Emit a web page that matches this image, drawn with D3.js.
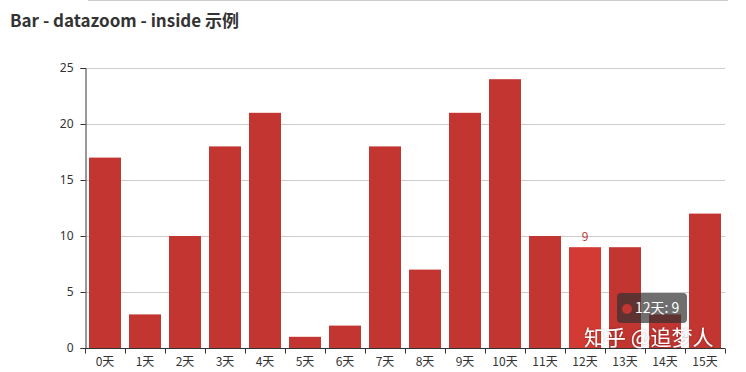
<!DOCTYPE html>
<html>
<head>
<meta charset="utf-8">
<script src="https://cdn.jsdelivr.net/npm/d3@7/dist/d3.min.js"></script>
<style>
  body { margin: 0; background: #fff; }
  svg text { font-family: "Noto Sans CJK SC", "Noto Sans", sans-serif; }
</style>
</head>
<body>
<div class="chart"></div>
<script>
// data
var categories = ["0天","1天","2天","3天","4天","5天","6天","7天","8天","9天","10天","11天","12天","13天","14天","15天"];
var values = [17, 3, 10, 18, 21, 1, 2, 18, 7, 21, 24, 10, 9, 9, 3, 12];
var yTicks = [0, 5, 10, 15, 20, 25];
var highlight = "12天";

var width = 746, height = 372;
var margin = {left: 85, right: 21, top: 68, bottom: 24};

var svg = d3.select(".chart").append("svg")
    .attr("width", width)
    .attr("height", height);

var defs = svg.append("defs");
var shadow = defs.append("filter")
    .attr("id", "shadow")
    .attr("x", "-10%").attr("y", "-30%")
    .attr("width", "120%").attr("height", "160%");
shadow.append("feDropShadow")
    .attr("dx", 0).attr("dy", 0)
    .attr("stdDeviation", 1)
    .attr("flood-color", "#000")
    .attr("flood-opacity", 0.35);

// faint line along the top edge
svg.append("line")
    .attr("x1", 88).attr("x2", 728)
    .attr("y1", 0.5).attr("y2", 0.5)
    .attr("stroke", "#ccc");

// title
svg.append("text")
    .attr("x", 10).attr("y", 27)
    .attr("font-size", 17)
    .attr("font-weight", "bold")
    .attr("fill", "#333")
    .text("Bar - datazoom - inside 示例");

var x = d3.scaleBand()
    .domain(categories)
    .range([margin.left, width - margin.right])
    .paddingInner(0.2)
    .paddingOuter(0.1);

var y = d3.scaleLinear()
    .domain([0, 25])
    .range([height - margin.bottom, margin.top]);

// split lines
svg.append("g").selectAll("line")
    .data(yTicks.filter(function(d) { return d > 0; }))
    .enter().append("line")
    .attr("x1", margin.left)
    .attr("x2", width - margin.right)
    .attr("y1", function(d) { return Math.round(y(d)) + 0.5; })
    .attr("y2", function(d) { return Math.round(y(d)) + 0.5; })
    .attr("stroke", "#ccc");

// bars
svg.append("g").selectAll("rect")
    .data(categories)
    .enter().append("rect")
    .attr("x", function(d) { return x(d); })
    .attr("width", x.bandwidth())
    .attr("y", function(d, i) { return y(values[i]); })
    .attr("height", function(d, i) { return y(0) - y(values[i]); })
    .attr("fill", function(d) { return d === highlight ? "#d33a33" : "#c23531"; });

// y axis
var yAxis = svg.append("g")
    .attr("transform", "translate(" + (margin.left + 0.5) + ",0)")
    .call(d3.axisLeft(y).tickValues(yTicks).tickSize(5).tickPadding(7));
yAxis.select(".domain").attr("stroke", "#333");
yAxis.selectAll(".tick line").attr("stroke", "#333");
yAxis.selectAll("text").attr("font-size", 12).attr("fill", "#333")
    .style("font-family", "\"Noto Sans\", sans-serif");

// x axis with ticks at band edges
var xAxisG = svg.append("g")
    .attr("transform", "translate(0," + (y(0) + 0.5) + ")");
xAxisG.append("line")
    .attr("x1", margin.left).attr("x2", width - margin.right)
    .attr("stroke", "#333");
var edges = d3.range(categories.length + 1).map(function(i) {
  return margin.left + i * (width - margin.left - margin.right) / categories.length;
});
xAxisG.selectAll("line.tick")
    .data(edges)
    .enter().append("line")
    .attr("class", "tick")
    .attr("x1", function(d) { return Math.round(d) + 0.5; })
    .attr("x2", function(d) { return Math.round(d) + 0.5; })
    .attr("y1", 0).attr("y2", 5)
    .attr("stroke", "#333");
xAxisG.selectAll("text")
    .data(categories)
    .enter().append("text")
    .attr("x", function(d) { return x(d) + x.bandwidth() / 2; })
    .attr("y", 17)
    .attr("text-anchor", "middle")
    .attr("font-size", 12)
    .attr("fill", "#333")
    .text(function(d) { return d; });

// label above highlighted bar
var hi = categories.indexOf(highlight);
svg.append("text")
    .attr("x", x(highlight) + x.bandwidth() / 2)
    .attr("y", y(values[hi]) - 6)
    .attr("text-anchor", "middle")
    .attr("font-size", 12)
    .attr("fill", "#c23531")
    .text(values[hi]);

// watermark
svg.append("text")
    .attr("x", 584).attr("y", 345)
    .attr("font-size", 21)
    .attr("fill", "#fff")
    .attr("filter", "url(#shadow)")
    .text("知乎 @追梦人");

// tooltip
var tip = svg.append("g").attr("transform", "translate(617,293)");
tip.append("rect")
    .attr("width", 70).attr("height", 30)
    .attr("rx", 4)
    .attr("fill", "rgba(50,50,50,0.7)");
tip.append("circle")
    .attr("cx", 10).attr("cy", 16).attr("r", 5)
    .attr("fill", "#c23531");
tip.append("text")
    .attr("x", 18).attr("y", 20)
    .attr("font-size", 14)
    .attr("fill", "#fff")
    .text(highlight + ": " + values[hi]);
</script>
</body>
</html>
